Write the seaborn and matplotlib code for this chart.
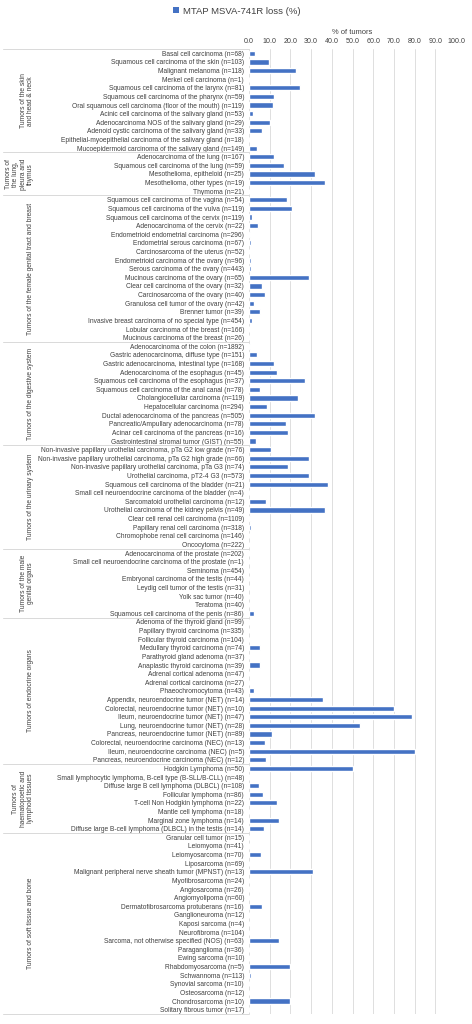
import matplotlib
matplotlib.use("Agg")
import matplotlib.pyplot as plt
import matplotlib.transforms as mtransforms
from matplotlib.patches import Patch
import seaborn as sns
import pandas as pd

# ---------------- data ----------------
group_names = [
    "Tumors of the skin\nand head & neck",
    "Tumors of\nthe lung,\npleura and\nthymus",
    "Tumors of the female genital tract and breast",
    "Tumors of the digestive system",
    "Tumors of the urinary system",
    "Tumors of the male\ngenital organs",
    "Tumors of endocrine organs",
    "Tumors of\nhaematopoetic and\nlymphoid tissues",
    "Tumors of soft tissue and bone",
]

skin_labels = [
    "Basal cell carcinoma (n=68)",
    "Squamous cell carcinoma of the skin (n=103)",
    "Malignant melanoma (n=118)",
    "Merkel cell carcinoma (n=1)",
    "Squamous cell carcinoma of the larynx (n=81)",
    "Squamous cell carcinoma of the pharynx (n=59)",
    "Oral squamous cell carcinoma (floor of the mouth) (n=119)",
    "Acinic cell carcinoma of the salivary gland (n=53)",
    "Adenocarcinoma NOS of the salivary gland (n=29)",
    "Adenoid cystic carcinoma of the salivary gland (n=33)",
    "Epithelial-myoepithelial carcinoma of the salivary gland (n=18)",
    "Mucoepidermoid carcinoma of the salivary gland (n=149)",
]
skin_values = [2.9, 9.7, 22.9, 0.0, 24.7, 11.9, 11.8, 1.9, 10.3, 6.1, 0.0, 4.0]

lung_labels = [
    "Adenocarcinoma of the lung (n=167)",
    "Squamous cell carcinoma of the lung (n=59)",
    "Mesothelioma, epitheloid (n=25)",
    "Mesothelioma, other types (n=19)",
    "Thymoma (n=21)",
]
lung_values = [12.0, 16.9, 32.0, 36.8, 0.0]

female_labels = [
    "Squamous cell carcinoma of the vagina (n=54)",
    "Squamous cell carcinoma of the vulva (n=119)",
    "Squamous cell carcinoma of the cervix (n=119)",
    "Adenocarcinoma of the cervix (n=22)",
    "Endometrioid endometrial carcinoma (n=296)",
    "Endometrial serous carcinoma (n=67)",
    "Carcinosarcoma of the uterus (n=52)",
    "Endometrioid carcinoma of the ovary (n=96)",
    "Serous carcinoma of the ovary (n=443)",
    "Mucinous carcinoma of the ovary (n=65)",
    "Clear cell carcinoma of the ovary (n=32)",
    "Carcinosarcoma of the ovary (n=40)",
    "Granulosa cell tumor of the ovary (n=42)",
    "Brenner tumor (n=39)",
    "Invasive breast carcinoma of no special type (n=454)",
    "Lobular carcinoma of the breast (n=166)",
    "Mucinous carcinoma of the breast (n=26)",
]
female_values = [18.5, 21.0, 1.3, 4.5, 0.5, 1.1, 0.0, 1.0, 0.9, 29.2, 6.2, 7.5,
                 2.2, 5.1, 1.3, 0.0, 0.0]

digestive_labels = [
    "Adenocarcinoma of the colon (n=1892)",
    "Gastric adenocarcinoma, diffuse type (n=151)",
    "Gastric adenocarcinoma, intestinal type (n=168)",
    "Adenocarcinoma of the esophagus (n=45)",
    "Squamous cell carcinoma of the esophagus (n=37)",
    "Squamous cell carcinoma of the anal canal (n=78)",
    "Cholangiocellular carcinoma (n=119)",
    "Hepatocellular carcinoma (n=294)",
    "Ductal adenocarcinoma of the pancreas (n=505)",
    "Pancreatic/Ampullary adenocarcinoma (n=78)",
    "Acinar cell carcinoma of the pancreas (n=16)",
    "Gastrointestinal stromal tumor (GIST) (n=55)",
]
digestive_values = [0.5, 4.0, 11.9, 13.3, 27.0, 5.1, 23.5, 8.8, 32.1, 17.9, 18.7, 3.6]

urinary_labels = [
    "Non-invasive papillary urothelial carcinoma, pTa G2 low grade (n=76)",
    "Non-invasive papillary urothelial carcinoma, pTa G2 high grade (n=66)",
    "Non-invasive papillary urothelial carcinoma, pTa G3 (n=74)",
    "Urothelial carcinoma, pT2-4 G3 (n=573)",
    "Squamous cell carcinoma of the bladder (n=21)",
    "Small cell neuroendocrine carcinoma of the bladder (n=4)",
    "Sarcomatoid urothelial carcinoma (n=12)",
    "Urothelial carcinoma of the kidney pelvis (n=49)",
    "Clear cell renal cell carcinoma (n=1109)",
    "Papillary renal cell carcinoma (n=318)",
    "Chromophobe renal cell carcinoma (n=146)",
    "Oncocytoma (n=222)",
]
urinary_values = [10.5, 28.8, 18.9, 29.0, 38.1, 0.0, 8.1, 36.7, 0.4, 0.9, 0.0, 0.0]

male_labels = [
    "Adenocarcinoma of the prostate (n=202)",
    "Small cell neuroendocrine carcinoma of the prostate (n=1)",
    "Seminoma (n=454)",
    "Embryonal carcinoma of the testis (n=44)",
    "Leydig cell tumor of the testis (n=31)",
    "Yolk sac tumor (n=40)",
    "Teratoma (n=40)",
    "Squamous cell carcinoma of the penis (n=86)",
]
male_values = [0.0, 0.0, 0.2, 0.0, 0.0, 0.0, 0.0, 2.3]

endocrine_labels = [
    "Adenoma of the thyroid gland (n=99)",
    "Papillary thyroid carcinoma (n=335)",
    "Follicular thyroid carcinoma (n=104)",
    "Medullary thyroid carcinoma (n=74)",
    "Parathyroid gland adenoma (n=37)",
    "Anaplastic thyroid carcinoma (n=39)",
    "Adrenal cortical adenoma (n=47)",
    "Adrenal cortical carcinoma (n=27)",
    "Phaeochromocytoma (n=43)",
    "Appendix, neuroendocrine tumor (NET) (n=14)",
    "Colorectal, neuroendocrine tumor (NET) (n=10)",
    "Ileum, neuroendocrine tumor (NET) (n=47)",
    "Lung, neuroendocrine tumor (NET) (n=28)",
    "Pancreas, neuroendocrine tumor (NET) (n=89)",
    "Colorectal, neuroendocrine carcinoma (NEC) (n=13)",
    "Ileum, neuroendocrine carcinoma (NEC) (n=5)",
    "Pancreas, neuroendocrine carcinoma (NEC) (n=12)",
]
endocrine_values = [0.0, 0.0, 0.0, 5.4, 0.0, 5.1, 0.0, 0.0, 2.3, 35.7, 70.0, 78.7,
                    53.6, 11.2, 7.7, 80.0, 8.3]

haem_labels = [
    "Hodgkin Lymphoma (n=50)",
    "Small lymphocytic lymphoma, B-cell type (B-SLL/B-CLL) (n=48)",
    "Diffuse large B cell lymphoma (DLBCL) (n=108)",
    "Follicular lymphoma (n=86)",
    "T-cell Non Hodgkin lymphoma (n=22)",
    "Mantle cell lymphoma (n=18)",
    "Marginal zone lymphoma (n=14)",
    "Diffuse large B-cell lymphoma (DLBCL) in the testis (n=14)",
]
haem_values = [50.0, 0.0, 4.6, 7.0, 13.6, 0.0, 14.3, 7.1]

soft_labels = [
    "Granular cell tumor (n=15)",
    "Leiomyoma (n=41)",
    "Leiomyosarcoma (n=70)",
    "Liposarcoma (n=69)",
    "Malignant peripheral nerve sheath tumor (MPNST) (n=13)",
    "Myofibrosarcoma (n=24)",
    "Angiosarcoma (n=26)",
    "Angiomyolipoma (n=60)",
    "Dermatofibrosarcoma protuberans (n=16)",
    "Ganglioneuroma (n=12)",
    "Kaposi sarcoma (n=4)",
    "Neurofibroma (n=104)",
    "Sarcoma, not otherwise specified (NOS) (n=63)",
    "Paraganglioma (n=36)",
    "Ewing sarcoma (n=10)",
    "Rhabdomyosarcoma (n=5)",
    "Schwannoma (n=113)",
    "Synovial sarcoma (n=10)",
    "Osteosarcoma (n=12)",
    "Chondrosarcoma (n=10)",
    "Solitary fibrous tumor (n=17)",
]
soft_values = [0.0, 0.0, 5.7, 0.0, 30.8, 0.0, 0.0, 0.0, 6.2, 0.0, 0.0, 0.0, 14.3,
               0.0, 0.0, 20.0, 0.9, 0.0, 0.0, 20.0, 0.0]

x_ticks = [0, 10, 20, 30, 40, 50, 60, 70, 80, 90, 100]
series_name = "MTAP MSVA-741R loss (%)"
x_title = "% of tumors"

# ---------------- build table ----------------
group_labels = [skin_labels, lung_labels, female_labels, digestive_labels, urinary_labels,
                male_labels, endocrine_labels, haem_labels, soft_labels]
group_values = [skin_values, lung_values, female_values, digestive_values, urinary_values,
                male_values, endocrine_values, haem_values, soft_values]

rows = []
for g, labs, vals in zip(group_names, group_labels, group_values):
    for l, v in zip(labs, vals):
        rows.append({"group": g, "category": l, "value": v})
df = pd.DataFrame(rows)

# ---------------- style ----------------
sns.set_theme(style="white")
plt.rcParams["font.family"] = ["Liberation Sans", "DejaVu Sans"]
TXT = "#404040"
BLUE = "#4472C4"
GRID = "#D9D9D9"
FS = 4.8

W, H = 472, 1024
fig = plt.figure(figsize=(W / 100, H / 100), dpi=100)
ax_left, ax_right = 249 / W, 456 / W
ax_top, ax_bot = 1 - 49 / H, 1 - 1014 / H
ax = fig.add_axes([ax_left, ax_bot, ax_right - ax_left, ax_top - ax_bot])

sns.barplot(data=df, x="value", y="category", orient="h", color=BLUE,
            width=0.6, ax=ax, saturation=1, errorbar=None)

n = len(df)
ax.set_xlim(0, 100)
ax.set_ylim(n - 0.5, -0.5)
ax.set_xticks(x_ticks)
ax.set_xticklabels([f"{t:.1f}" for t in x_ticks])
ax.xaxis.tick_top()
ax.xaxis.set_label_position("top")
ax.set_xlabel(x_title, fontsize=5.4, color=TXT, labelpad=3)
ax.set_ylabel("")
ax.tick_params(axis="x", length=0, pad=3, labelsize=5.1, colors=TXT)
ax.tick_params(axis="y", length=0, pad=3.6, labelsize=FS, colors=TXT)
for sp in ax.spines.values():
    sp.set_visible(False)
ax.grid(axis="x", color=GRID, linewidth=0.6)
ax.grid(axis="y", visible=False)
ax.set_axisbelow(True)

# ---------------- group separators and labels ----------------
trans = mtransforms.blended_transform_factory(fig.transFigure, ax.transData)
x0 = 3 / W
sizes = [len(l) for l in group_labels]
start = 0
bounds = [-0.5]
for g, s in zip(group_names, sizes):
    center = start + (s - 1) / 2
    ax.text(34 / W, center, g, transform=trans, rotation=90, ha="right", va="center",
            multialignment="center", fontsize=FS, color=TXT, linespacing=1.05)
    start += s
    bounds.append(start - 0.5)
for b in bounds:
    ax.plot([x0, ax_left], [b, b], transform=trans, color=GRID, linewidth=0.7,
            clip_on=False)

# ---------------- legend ----------------
handles = [Patch(facecolor=BLUE, edgecolor="none", label=series_name)]
fig.legend(handles=handles, loc="center", bbox_to_anchor=(237 / W, 1 - 11 / H),
           frameon=False, fontsize=6.8, handlelength=0.6, handleheight=0.6,
           handletextpad=0.4, labelcolor=TXT)

fig.savefig("out.png", dpi=100, facecolor="white")
